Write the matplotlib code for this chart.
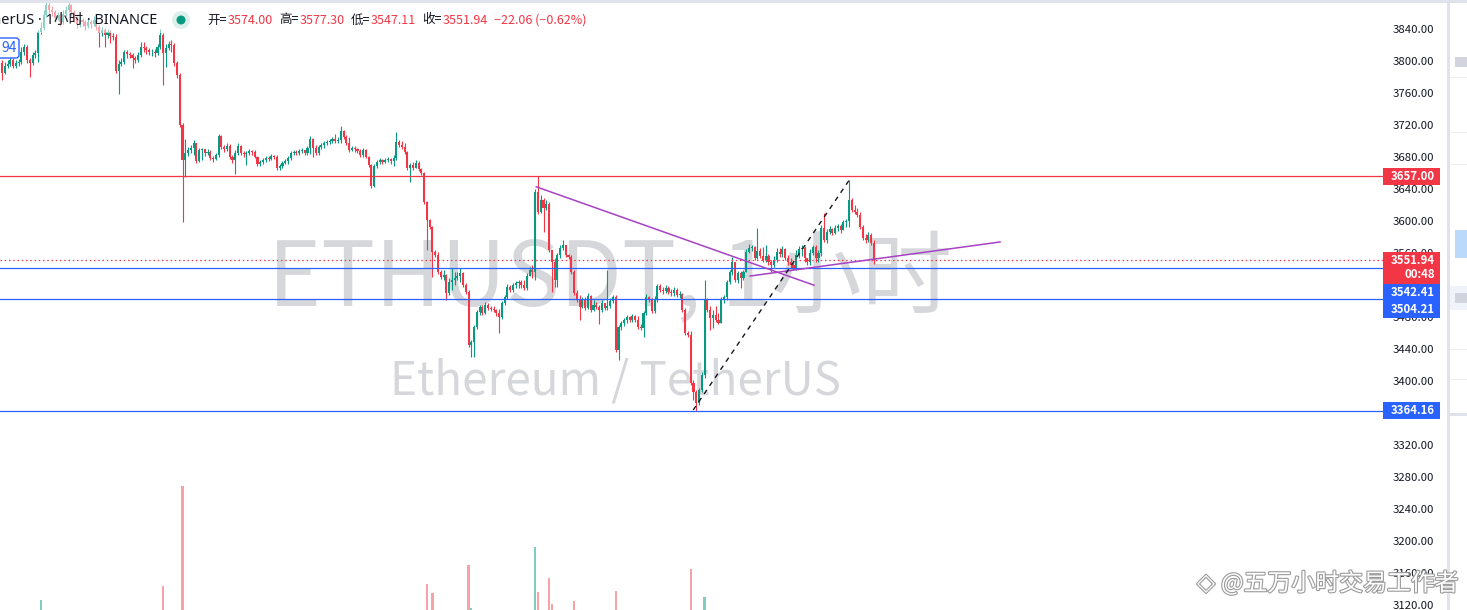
import numpy as np
import matplotlib
matplotlib.use("Agg")
import matplotlib.pyplot as plt
import matplotlib.patheffects as pe
from matplotlib.patches import Rectangle, FancyBboxPatch, Circle
from matplotlib.transforms import IdentityTransform

plt.rcParams['font.family'] = ['Noto Sans CJK SC', 'DejaVu Sans']

W, H = 1467, 610
GREEN = '#089981'
RED = '#f23645'
BLUE = '#2962ff'
PURPLE = '#a742c4'
TEXT = '#131722'

# ETHUSDT 1h candles (open of each bar = previous close)
first_open = 3799
closes = [
    3786, 3795, 3798, 3802, 3795, 3799, 3800, 3812, 3819, 3802,
    3799, 3809, 3811, 3838, 3842, 3859, 3871, 3865, 3862, 3855,
    3859, 3850, 3860, 3865, 3871, 3862, 3855, 3848, 3852, 3850,
    3845, 3850, 3848, 3852, 3844, 3836, 3840, 3834, 3838, 3832,
    3831, 3789, 3798, 3800, 3812, 3810, 3809, 3805, 3802, 3809,
    3819, 3818, 3815, 3812, 3812, 3811, 3819, 3834, 3811, 3818,
    3822, 3821, 3799, 3784, 3721, 3678,
    3686, 3690, 3692, 3699, 3676, 3690, 3691, 3686, 3688, 3680,
    3679, 3684, 3708, 3694, 3691, 3695, 3681, 3678, 3686, 3695,
    3686, 3685, 3686, 3689, 3688, 3681, 3672, 3675, 3678, 3680,
    3679, 3682, 3681, 3668, 3670, 3674, 3676, 3680, 3686, 3688,
    3686, 3689, 3690, 3686, 3692, 3704, 3692, 3686, 3694, 3696,
    3699, 3700, 3701, 3704, 3701, 3702, 3714, 3706, 3699, 3690,
    3692, 3691, 3689, 3684, 3690, 3681, 3671, 3645, 3670, 3675,
    3678, 3675, 3678, 3679, 3676, 3680, 3700, 3696, 3694, 3688,
    3668, 3671, 3668, 3674, 3666, 3661, 3625, 3602, 3594, 3562,
    3559, 3538, 3531, 3534, 3511, 3525, 3528, 3530, 3532, 3536,
    3521, 3512, 3446, 3450, 3469, 3488, 3494, 3486, 3496, 3492,
    3491, 3490, 3486, 3481, 3499, 3506, 3519, 3515, 3521, 3524,
    3525, 3521,
    3518, 3532, 3540, 3538, 3638, 3612, 3628, 3618, 3622, 3565,
    3550, 3528, 3559, 3568, 3571, 3559, 3556, 3538, 3511, 3502,
    3494, 3502, 3492, 3508, 3490, 3496, 3494, 3490, 3499, 3492,
    3495, 3501, 3506, 3440, 3469, 3474, 3478, 3481, 3478, 3482,
    3478, 3469, 3468, 3486, 3506, 3502, 3489, 3502, 3520, 3515,
    3514, 3518, 3512, 3511, 3515, 3509, 3510, 3490, 3461, 3459,
    3399, 3388, 3374, 3390, 3409,
    3502, 3490, 3480, 3484, 3478, 3474, 3502, 3506, 3525, 3538,
    3550, 3528, 3536, 3530, 3538, 3562, 3568, 3569, 3555, 3564,
    3558, 3552, 3558, 3550, 3546, 3552, 3562, 3560, 3566, 3555,
    3550, 3546, 3542, 3559, 3566, 3568, 3555, 3550, 3561, 3569,
    3555, 3561, 3592, 3578, 3588, 3591, 3586, 3592, 3595, 3590,
    3600, 3601, 3628, 3615, 3612, 3609, 3594, 3580, 3578, 3584,
    3574, 3551.94,
]
highs = [
    3802, 3800, 3802, 3806, 3805, 3802, 3804, 3819, 3822, 3821,
    3805, 3812, 3815, 3840, 3850, 3865, 3878, 3875, 3870, 3865,
    3862, 3861, 3865, 3870, 3878, 3872, 3865, 3858, 3858, 3855,
    3852, 3855, 3852, 3858, 3855, 3846, 3844, 3842, 3841, 3840,
    3836, 3835, 3802, 3805, 3815, 3815, 3812, 3811, 3808, 3812,
    3825, 3825, 3820, 3818, 3816, 3816, 3822, 3841, 3836, 3822,
    3826, 3828, 3824, 3801, 3786, 3724,
    3704, 3694, 3696, 3702, 3696, 3692, 3692, 3691, 3691, 3690,
    3682, 3686, 3710, 3709, 3696, 3699, 3698, 3684, 3690, 3699,
    3696, 3689, 3689, 3691, 3690, 3690, 3682, 3678, 3680, 3682,
    3682, 3685, 3684, 3684, 3672, 3676, 3679, 3682, 3689, 3690,
    3690, 3691, 3692, 3690, 3695, 3708, 3705, 3696, 3696, 3699,
    3701, 3702, 3704, 3706, 3710, 3706, 3720, 3715, 3709, 3706,
    3695, 3695, 3692, 3691, 3692, 3691, 3682, 3672, 3672, 3678,
    3680, 3679, 3680, 3681, 3680, 3684, 3712, 3702, 3701, 3699,
    3689, 3674, 3675, 3678, 3676, 3668, 3662, 3626, 3604, 3595,
    3565, 3562, 3540, 3540, 3535, 3530, 3542, 3538, 3538, 3542,
    3538, 3524, 3515, 3452, 3471, 3490, 3496, 3496, 3500, 3499,
    3495, 3495, 3491, 3491, 3501, 3509, 3522, 3521, 3524, 3526,
    3528, 3528,
    3528, 3536, 3544, 3546, 3641, 3658, 3634, 3630, 3628, 3625,
    3565, 3555, 3561, 3571, 3578, 3571, 3560, 3559, 3540, 3515,
    3509, 3506, 3506, 3511, 3509, 3502, 3500, 3496, 3502, 3499,
    3540, 3505, 3509, 3509, 3471, 3476, 3480, 3484, 3482, 3485,
    3484, 3482, 3472, 3489, 3510, 3508, 3505, 3508, 3522, 3522,
    3519, 3521, 3520, 3516, 3519, 3518, 3514, 3511, 3492, 3464,
    3464, 3402, 3390, 3392, 3412,
    3528, 3505, 3495, 3490, 3495, 3486, 3506, 3509, 3528, 3540,
    3556, 3545, 3539, 3539, 3540, 3566, 3572, 3571, 3570, 3592,
    3568, 3569, 3571, 3560, 3552, 3558, 3568, 3568, 3570, 3568,
    3559, 3555, 3549, 3565, 3570, 3571, 3570, 3555, 3566, 3571,
    3571, 3565, 3596, 3611, 3591, 3595, 3592, 3596, 3598, 3598,
    3602, 3604, 3652, 3630, 3621, 3618, 3612, 3596, 3585, 3588,
    3586, 3577.30,
]
lows = [
    3778, 3785, 3792, 3795, 3792, 3792, 3795, 3798, 3809, 3799,
    3781, 3796, 3805, 3800, 3835, 3840, 3856, 3860, 3858, 3850,
    3852, 3845, 3848, 3858, 3862, 3858, 3850, 3842, 3844, 3845,
    3840, 3842, 3842, 3845, 3840, 3819, 3832, 3819, 3830, 3824,
    3828, 3786, 3760, 3795, 3798, 3805, 3805, 3792, 3799, 3800,
    3806, 3812, 3810, 3809, 3808, 3806, 3809, 3816, 3771, 3794,
    3815, 3812, 3795, 3780, 3719, 3600,
    3656, 3682, 3686, 3684, 3674, 3675, 3678, 3682, 3684, 3678,
    3675, 3678, 3681, 3691, 3688, 3689, 3679, 3674, 3660, 3684,
    3684, 3681, 3671, 3684, 3684, 3680, 3670, 3670, 3672, 3675,
    3676, 3678, 3679, 3665, 3665, 3668, 3672, 3672, 3678, 3684,
    3684, 3684, 3686, 3684, 3684, 3685, 3681, 3684, 3684, 3691,
    3692, 3696, 3698, 3699, 3699, 3699, 3699, 3704, 3696, 3688,
    3689, 3688, 3686, 3681, 3681, 3680, 3669, 3642, 3644, 3668,
    3672, 3672, 3674, 3675, 3672, 3670, 3678, 3694, 3691, 3685,
    3665, 3650, 3665, 3668, 3664, 3659, 3622, 3565, 3591, 3531,
    3556, 3535, 3529, 3528, 3502, 3509, 3515, 3521, 3528, 3525,
    3519, 3510, 3444, 3431, 3431, 3466, 3484, 3484, 3485, 3490,
    3489, 3488, 3482, 3461, 3479, 3496, 3504, 3512, 3512, 3518,
    3518, 3518,
    3515, 3515, 3532, 3530, 3528, 3610, 3611, 3588, 3615, 3562,
    3512, 3519, 3519, 3555, 3565, 3556, 3554, 3535, 3509, 3500,
    3478, 3492, 3490, 3491, 3488, 3489, 3491, 3472, 3488, 3490,
    3490, 3492, 3499, 3438, 3428, 3465, 3470, 3474, 3475, 3475,
    3475, 3466, 3465, 3456, 3484, 3500, 3486, 3486, 3500, 3512,
    3510, 3511, 3510, 3508, 3508, 3506, 3505, 3488, 3459, 3456,
    3396, 3378, 3364, 3371, 3388,
    3405, 3488, 3465, 3468, 3475, 3472, 3484, 3499, 3502, 3522,
    3534, 3525, 3524, 3518, 3528, 3538, 3561, 3564, 3552, 3554,
    3555, 3550, 3550, 3546, 3538, 3544, 3550, 3556, 3556, 3552,
    3546, 3542, 3540, 3540, 3555, 3558, 3550, 3546, 3546, 3559,
    3550, 3550, 3558, 3575, 3574, 3585, 3584, 3585, 3589, 3586,
    3592, 3594, 3594, 3612, 3610, 3606, 3591, 3578, 3574, 3575,
    3571, 3547.11,
]

# visible volume spikes (bar index, volume in K ETH)
vol_idx = [14, 58, 65, 153, 155, 168, 169, 192, 193, 197, 198, 206, 221, 248, 253]
vol_val = [11.0, 15.2, 45.2, 15.8, 13.1, 21.5, 8.6, 26.9, 13.4, 17.6, 9.8, 10.7, 13.7, 20.3, 11.9]

# horizontal levels
red_level = 3657.00
blue_levels = [3542.41, 3504.21, 3364.16]
last_price = 3551.94
countdown = '00:48'

# drawings (bar index, price)
trend1_x, trend1_y = [192.4, 292.4], [3644, 3521]
trend2_x, trend2_y = [269.4, 359.4], [3532.5, 3575]
dash_x, dash_y = [248.9, 305.0], [3365, 3652]

price_ticks = list(range(3120, 3841, 40))

# header values
ohlc_labels = ['开', '高', '低', '收']
ohlc_values = ['3574.00', '3577.30', '3547.11', '3551.94']
change_text = '−22.06 (−0.62%)'

# ---------------------------------------------------------------
n = len(closes)
opens = [first_open] + closes[:-1]
o = np.array(opens, float)
c = np.array(closes, float)
hi = np.maximum(np.array(highs, float), np.maximum(o, c))
lo = np.minimum(np.array(lows, float), np.minimum(o, c))
idx = np.arange(n)
up = c >= o
cols = np.where(up, GREEN, RED)

# pixel geometry of the chart
bar_px = 872 / (n - 1)
x_left = -2 / bar_px
x_right = (1383 - 2) / bar_px
y_bot, y_top = 3115.0, 3873.75

fig = plt.figure(figsize=(W / 100, H / 100), dpi=100)
fig.patch.set_facecolor('white')
rect = [0, 0, 1383 / W, (H - 3) / H]

axv = fig.add_axes(rect)
ax = fig.add_axes(rect)
for a in (axv, ax):
    a.set_xlim(x_left, x_right)
    a.axis('off')
ax.patch.set_alpha(0)
ax.set_ylim(y_bot, y_top)

# watermark behind everything
axv.text(610 / 1383, (610 - 281) / 607, 'ETHUSDT, 1小时', transform=axv.transAxes,
         ha='center', va='center', fontsize=65, color='#d6d7db', zorder=0)
axv.text(615 / 1383, (610 - 381) / 607, 'Ethereum / TetherUS', transform=axv.transAxes,
         ha='center', va='center', fontsize=33, color='#d6d7db', zorder=0)

# volume
axv.set_ylim(8, 8 + 607 * 0.3)
vcols = [('#7fcdc1' if up[i] else '#f7a1a8') for i in vol_idx]
axv.bar(vol_idx, vol_val, width=0.8, color=vcols, linewidth=0, zorder=1)

# candles
ax.vlines(idx, lo, hi, colors=cols, linewidth=0.8, zorder=2)
body_lo = np.minimum(o, c)
body_h = np.maximum(np.abs(c - o), 1.0)
ax.bar(idx, body_h, bottom=body_lo, width=0.75, color=cols, linewidth=0, zorder=2.1)

# levels
ax.axhline(red_level, color=RED, lw=0.9, zorder=3)
for lv in blue_levels:
    ax.axhline(lv, color=BLUE, lw=0.9, zorder=3)
ax.axhline(last_price, color=RED, lw=0.9, ls=(0, (1.2, 2.2)), zorder=3)

# drawings
ax.plot(trend1_x, trend1_y, color=PURPLE, lw=1.1, zorder=3.5)
ax.plot(trend2_x, trend2_y, color=PURPLE, lw=1.1, zorder=3.5)
ax.plot(dash_x, dash_y, color=TEXT, lw=1.0, ls=(0, (3.5, 3.5)), zorder=3.5)

# price scale
axp = fig.add_axes([1383 / W, 0, 64 / W, (H - 3) / H])
axp.set_xlim(0, 64)
axp.set_ylim(y_bot, y_top)
axp.axis('off')
for p in price_ticks:
    axp.text(51, p, f'{p:.2f}', ha='right', va='center', fontsize=8.2, color=TEXT, zorder=1)

ppx = (y_top - y_bot) / 607
labels = [(red_level, [f'{red_level:.2f}'], RED),
          (last_price, [f'{last_price:.2f}', countdown], RED)] + \
         [(lv, [f'{lv:.2f}'], BLUE) for lv in blue_levels]
prev_bottom = np.inf
for price, lines, colr in labels:
    hh = (17 if len(lines) == 1 else 32) * ppx
    top = min(price + 8.5 * ppx, prev_bottom)
    bottom = top - hh
    axp.add_patch(Rectangle((0, bottom), 57, hh, facecolor=colr, edgecolor='none',
                            zorder=5, clip_on=False))
    for k, s in enumerate(lines):
        axp.text(52, top - (8.5 + 14.5 * k) * ppx, s, ha='right', va='center',
                 fontsize=8.2, color='white', fontweight='bold', zorder=6, clip_on=False)
    prev_bottom = bottom

# frame pieces (top bar, right toolbar)
ident = IdentityTransform()
fig.add_artist(Rectangle((0, H - 3), W, 3, transform=ident, facecolor='#e0e3eb',
                         edgecolor='none', zorder=20))
fig.add_artist(Rectangle((1447, 0), 3, H, transform=ident, facecolor='#e0e3eb',
                         edgecolor='none', zorder=20))
for yy in [78, 133, 165, 350, 380]:
    fig.add_artist(Rectangle((1450, H - yy), 17, 1, transform=ident, facecolor='#eceef2',
                             edgecolor='none', zorder=20))
fig.add_artist(Rectangle((1450, H - 416), 17, 3, transform=ident, facecolor='#e0e3eb',
                         edgecolor='none', zorder=20))
fig.add_artist(Rectangle((1455, H - 258), 12, 28, transform=ident, facecolor='#bbd9fb',
                         edgecolor='none', zorder=20))
fig.add_artist(Rectangle((1450, H - 310), 17, 24, transform=ident, facecolor='#f0f3fa',
                         edgecolor='none', zorder=20))
for fy in [62, 298]:
    fig.add_artist(Rectangle((1455, H - fy - 5), 12, 10, transform=ident, facecolor='#d1d4dc',
                             edgecolor='none', zorder=21))

# header fade + legend
fig.add_artist(Rectangle((0, H - 33), 595, 30, transform=ident, facecolor='white',
                         alpha=0.55, edgecolor='none', zorder=9))
hy = 1 - 20 / H
head_font = ['Noto Sans', 'Noto Sans CJK SC']
fig.text(157 / W, hy, 'Ethereum / TetherUS · 1小时 · BINANCE', ha='right', va='center',
         fontsize=10.5, color=TEXT, family=head_font, zorder=10)
fig.add_artist(Circle((181, H - 20), 9, transform=ident, facecolor='#dcefeb',
                      edgecolor='none', zorder=10))
fig.add_artist(Circle((181, H - 20), 4.5, transform=ident, facecolor=GREEN,
                      edgecolor='none', zorder=11))

renderer = fig.canvas.get_renderer()
xpos = 207
parts = []
for lab, val in zip(ohlc_labels, ohlc_values):
    parts += [(lab + '=', TEXT, 0), (val, RED, 5)]
parts += [(change_text, RED, 0)]
for s, colr, gap in parts:
    t = fig.text(xpos / W, hy, s, ha='left', va='center', fontsize=9.0, color=colr, zorder=10)
    bb = t.get_window_extent(renderer=renderer)
    xpos = bb.x1 + gap + 1

# partial label box at the left
fig.add_artist(FancyBboxPatch((-8, H - 58), 27, 20, boxstyle='round,pad=0,rounding_size=3',
                              transform=ident, facecolor='white', edgecolor=BLUE,
                              linewidth=1.0, zorder=10))
fig.text(9 / W, 1 - 48 / H, '94', ha='center', va='center', fontsize=10, color=BLUE, zorder=11)

# bottom-right author watermark
stroke = [pe.withStroke(linewidth=1.6, foreground='#9a9a9a')]
fig.text(1206 / W, 1 - 583 / H, '◇', ha='center', va='center', fontsize=17, color='white',
         family='DejaVu Sans', path_effects=stroke, zorder=30)
fig.text(1221 / W, 1 - 583 / H, '@五万小时交易工作者', ha='left', va='center', fontsize=17.2,
         color='white', path_effects=stroke, zorder=30)

fig.savefig('out.png', dpi=100, facecolor='white')
